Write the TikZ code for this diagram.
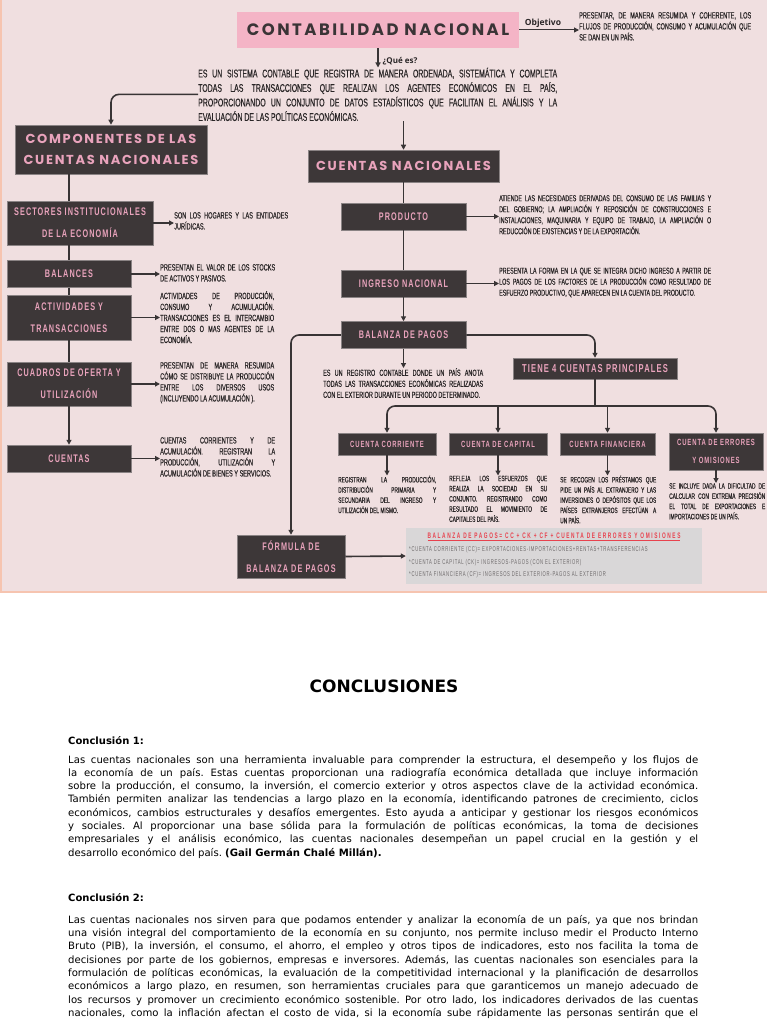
\documentclass[tikz,border=0pt]{standalone}
\usepackage{fontspec}
\setmainfont{DejaVu Sans}
\newfontfamily\condfont[FakeStretch=0.62,FakeBold=0.4]{Liberation Sans}
\newfontfamily\tagfont[FakeStretch=0.66,LetterSpace=10]{Liberation Sans}
\newfontfamily\formfont[FakeStretch=0.6,LetterSpace=20]{Liberation Sans}
\newfontfamily\formlinefont[FakeStretch=0.6,LetterSpace=10]{Liberation Sans}
\newfontfamily\titlefont[LetterSpace=15]{Poppins}
\newfontfamily\headfont[LetterSpace=13]{Poppins}
\newfontfamily\smallfont{Open Sans}
\newfontfamily\bodyfont{DejaVu Sans}
\usetikzlibrary{arrows.meta, positioning}
\frenchspacing
\definecolor{bgpink}{HTML}{F0DFE0}
\definecolor{titlepink}{HTML}{F4B4C6}
\definecolor{titleink}{HTML}{3A3436}
\definecolor{boxdark}{HTML}{3D3738}
\definecolor{boxedge}{HTML}{8A8384}
\definecolor{boxpink}{HTML}{E9A3BC}
\definecolor{ink}{HTML}{2A2627}
\definecolor{wire}{HTML}{383435}
\definecolor{formgray}{HTML}{D9D7D8}
\definecolor{formred}{HTML}{E8424E}
\definecolor{formink}{HTML}{6E6A6B}
\definecolor{borde}{HTML}{F6C4B0}
% una linea justificada y la ultima linea de un parrafo
\newcommand{\fila}[1]{\makebox[\hsize][s]{\spaceskip=0pt\xspaceskip=0pt #1}}
\newcommand{\ultima}[1]{\makebox[\hsize][l]{\spaceskip=0pt\xspaceskip=0pt #1}}

\begin{document}
\begin{tikzpicture}[x=1pt, y=-1pt, >={Triangle[length=5pt,width=5pt]},
    darkbox/.style={fill=boxdark, draw=boxedge, line width=0.5pt, text=boxpink, inner sep=0pt, align=center, font=\tagfont\bfseries\fontsize{11}{22}\selectfont},
    smallbox/.style={darkbox, font=\tagfont\bfseries\fontsize{9}{18}\selectfont},
    note/.style={anchor=north west, inner sep=0pt, align=left, text=ink, font=\condfont\fontsize{9}{11}\selectfont},
    tiny/.style={note, font=\condfont\fontsize{7.8}{10.2}\selectfont},
    formline/.style={anchor=west, text=formink, inner sep=0pt, font=\formlinefont\fontsize{7}{8}\selectfont},
    body/.style={anchor=north west, inner sep=0pt, text width=630, align=left, font=\bodyfont\fontsize{10.1}{13.3}\selectfont},
    link/.style={->, line width=1.6pt, draw=wire},
    plain/.style={line width=1.6pt, draw=wire}]
\useasboundingbox (0,0) rectangle (768,1024);
\fill[bgpink] (0,0) rectangle (767,592);
\draw[borde, line width=1.2pt] (1,0) -- (1,592) -- (767,592);

% titulo y objetivo
\node[fill=titlepink, minimum width=282, minimum height=36, inner sep=0pt, text=titleink, font=\titlefont\bfseries\fontsize{16.5}{18}\selectfont] (titulo) at (378,30) {CONTABILIDAD NACIONAL};
\node[font=\smallfont\bfseries\fontsize{8.5}{10}\selectfont, text=ink, inner sep=0pt] (objetivo) at (543,23) {Objetivo};
\node[note, text width=172] (objtext) at (579,12) {\fila{PRESENTAR, DE MANERA RESUMIDA Y COHERENTE, LOS}\\\fila{FLUJOS DE PRODUCCIÓN, CONSUMO Y ACUMULACIÓN QUE}\\\ultima{SE DAN EN UN PAÍS.}};
\draw[link, line width=1pt] (titulo.east) -- (titulo.east -| objtext.west);

\node[note, text width=359, font=\condfont\fontsize{11.2}{14.5}\selectfont] (quees) at (198,67.5) {\fila{ES UN SISTEMA CONTABLE QUE REGISTRA DE MANERA ORDENADA, SISTEMÁTICA Y COMPLETA}\\\fila{TODAS LAS TRANSACCIONES QUE REALIZAN LOS AGENTES ECONÓMICOS EN EL PAÍS,}\\\fila{PROPORCIONANDO UN CONJUNTO DE DATOS ESTADÍSTICOS QUE FACILITAN EL ANÁLISIS Y LA}\\\ultima{EVALUACIÓN DE LAS POLÍTICAS ECONÓMICAS.}};
\node[font=\smallfont\bfseries\fontsize{8}{10}\selectfont, text=ink, inner sep=0pt] (pregunta) at (400,61) {¿Qué es?};
\draw[link, line width=1.2pt] (titulo.south) -- (titulo.south |- quees.north);

% componentes
\node[darkbox, minimum width=192, minimum height=49, font=\headfont\bfseries\fontsize{13}{21}\selectfont] (compo) at (111,149.5) {COMPONENTES DE LAS\\CUENTAS NACIONALES};
\node[darkbox, minimum width=146, minimum height=44] (sectores) at (80,223) {SECTORES INSTITUCIONALES\\DE LA ECONOMÍA};
\node[darkbox, minimum width=124, minimum height=27] (balances) at (69,274) {BALANCES};
\node[darkbox, minimum width=124, minimum height=45] (actividades) at (69,317.5) {ACTIVIDADES Y\\TRANSACCIONES};
\node[darkbox, minimum width=124, minimum height=44] (cuadros) at (69,384) {CUADROS DE OFERTA Y\\UTILIZACIÓN};
\node[darkbox, minimum width=124, minimum height=27] (cuentas) at (69,458.5) {CUENTAS};

\node[note, text width=114] (sectext) at (174,212) {\fila{SON LOS HOGARES Y LAS ENTIDADES}\\\ultima{JURÍDICAS.}};
\node[note, text width=115] (baltext) at (160,264) {\fila{PRESENTAN EL VALOR DE LOS STOCKS}\\\ultima{DE ACTIVOS Y PASIVOS.}};
\node[note, text width=114] (acttext) at (160,291) {\fila{ACTIVIDADES DE PRODUCCIÓN,}\\\fila{CONSUMO Y ACUMULACIÓN.}\\\fila{TRANSACCIONES ES EL INTERCAMBIO}\\\fila{ENTRE DOS O MAS AGENTES DE LA}\\\ultima{ECONOMÍA.}};
\node[note, text width=114] (cuatext) at (160,362) {\fila{PRESENTAN DE MANERA RESUMIDA}\\\fila{CÓMO SE DISTRIBUYE LA PRODUCCIÓN}\\\fila{ENTRE LOS DIVERSOS USOS}\\\ultima{(INCLUYENDO LA ACUMULACIÓN ).}};
\node[note, text width=115] (ctatext) at (160,437) {\fila{CUENTAS CORRIENTES Y DE}\\\fila{ACUMULACIÓN. REGISTRAN LA}\\\fila{PRODUCCIÓN, UTILIZACIÓN Y}\\\ultima{ACUMULACIÓN DE BIENES Y SERVICIOS.}};

\draw[link, rounded corners=8] (quees.west) -| (compo.north);
\draw[plain] (compo.south -| balances) -- (sectores.north -| balances);
\draw[plain] (sectores.south -| balances) -- (balances.north);
\draw[plain] (balances) -- (actividades);
\draw[plain] (actividades) -- (cuadros);
\draw[link] (cuadros) -- (cuentas);
\draw[link] (sectores.east) -- (sectores.east -| sectext.west);
\draw[link] (balances.east) -- (balances.east -| baltext.west);
\draw[link] (actividades.east) -- (actividades.east -| acttext.west);
\draw[link] (cuadros.east) -- (cuadros.east -| cuatext.west);
\draw[link] (cuentas.east) -- (cuentas.east -| ctatext.west);

% cuentas nacionales
\node[darkbox, minimum width=191, minimum height=32, font=\headfont\bfseries\fontsize{13}{16}\selectfont] (cnac) at (403.5,166) {CUENTAS NACIONALES};
\node[darkbox, minimum width=125, minimum height=27] (producto) at (403.5,216.5) {PRODUCTO};
\node[darkbox, minimum width=125, minimum height=27] (ingreso) at (403.5,283.5) {INGRESO NACIONAL};
\node[darkbox, minimum width=125, minimum height=27] (balanza) at (403.5,335) {BALANZA DE PAGOS};
\node[darkbox, minimum width=108, minimum height=43] (formula) at (291,556.5) {FÓRMULA DE\\BALANZA DE PAGOS};
\node[darkbox, minimum width=164, minimum height=21, font=\tagfont\bfseries\fontsize{11.5}{12}\selectfont] (tiene) at (595,368.5) {TIENE 4 CUENTAS PRINCIPALES};

\node[note, text width=212, font=\condfont\fontsize{8.6}{11}\selectfont] (prodtext) at (499,195) {\fila{ATIENDE LAS NECESIDADES DERIVADAS DEL CONSUMO DE LAS FAMILIAS Y}\\\fila{DEL GOBIERNO; LA AMPLIACIÓN Y REPOSICIÓN DE CONSTRUCCIONES E}\\\fila{INSTALACIONES, MAQUINARIA Y EQUIPO DE TRABAJO, LA AMPLIACIÓN O}\\\ultima{REDUCCIÓN DE EXISTENCIAS Y DE LA EXPORTACIÓN.}};
\node[note, text width=212, font=\condfont\fontsize{8.6}{11}\selectfont] (ingtext) at (499,267.5) {\fila{PRESENTA LA FORMA EN LA QUE SE INTEGRA DICHO INGRESO A PARTIR DE}\\\fila{LOS PAGOS DE LOS FACTORES DE LA PRODUCCIÓN COMO RESULTADO DE}\\\ultima{ESFUERZO PRODUCTIVO, QUE APARECEN EN LA CUENTA DEL PRODUCTO.}};
\node[note, text width=160, font=\condfont\fontsize{8.8}{11}\selectfont] (bptext) at (323,368) {\fila{ES UN REGISTRO CONTABLE DONDE UN PAÍS ANOTA}\\\fila{TODAS LAS TRANSACCIONES ECONÓMICAS REALIZADAS}\\\ultima{CON EL EXTERIOR DURANTE UN PERIODO DETERMINADO.}};

\draw[link] (quees.south -| cnac.north) -- (cnac.north);
\draw[plain] (cnac) -- (producto);
\draw[plain] (producto) -- (ingreso);
\draw[link] (ingreso) -- (balanza);
\draw[link] (producto.east) -- (producto.east -| prodtext.west);
\draw[link] (ingreso.east) -- (ingreso.east -| ingtext.west);
\draw[link] (balanza.south) -- (balanza.south |- bptext.north);
\draw[link, rounded corners=8] (balanza.west) -| (formula.north);
\draw[link, rounded corners=8] (balanza.east) -| (tiene.north);

% cuatro cuentas
\node[smallbox, minimum width=98, minimum height=22] (corriente) at (387,444) {CUENTA CORRIENTE};
\node[smallbox, minimum width=98, minimum height=22] (capital) at (498,444) {CUENTA DE CAPITAL};
\node[smallbox, minimum width=95, minimum height=22] (financiera) at (607.5,444) {CUENTA FINANCIERA};
\node[smallbox, minimum width=94, minimum height=37] (errores) at (716,451.5) {CUENTA DE ERRORES\\Y OMISIONES};

\node[tiny, text width=98] (corrtext) at (338,475.5) {\fila{REGISTRAN LA PRODUCCIÓN,}\\\fila{DISTRIBUCIÓN PRIMARIA Y}\\\fila{SECUNDARIA DEL INGRESO Y}\\\ultima{UTILIZACIÓN DEL MISMO.}};
\node[tiny, text width=98] (captext) at (449,475.5) {\fila{REFLEJA LOS ESFUERZOS QUE}\\\fila{REALIZA LA SOCIEDAD EN SU}\\\fila{CONJUNTO. REGISTRANDO COMO}\\\fila{RESULTADO EL MOVIMIENTO DE}\\\ultima{CAPITALES DEL PAÍS.}};
\node[tiny, text width=96] (fintext) at (560,475.5) {\fila{SE RECOGEN LOS PRÉSTAMOS QUE}\\\fila{PIDE UN PAÍS AL EXTRANJERO Y LAS}\\\fila{INVERSIONES O DEPÓSITOS QUE LOS}\\\fila{PAÍSES EXTRANJEROS EFECTÚAN A}\\\ultima{UN PAÍS.}};
\node[tiny, text width=96] (errtext) at (669,483) {\fila{SE INCLUYE DADA LA DIFICULTAD DE}\\\fila{CALCULAR CON EXTREMA PRECISIÓN}\\\fila{EL TOTAL DE EXPORTACIONES E}\\\ultima{IMPORTACIONES DE UN PAÍS.}};

\coordinate (bus) at (595,406);
\draw[plain] (tiene) -- (bus);
\draw[link, rounded corners=8] (bus) -| (corriente.north);
\draw[link, rounded corners=8] (bus) -| (errores.north);
\draw[link] (bus -| capital) -- (capital.north);
\draw[link] (bus -| financiera) -- (financiera.north);
\draw[link] (corriente) -- (corriente.south |- corrtext.north);
\draw[link] (capital) -- (capital.south |- captext.north);
\draw[link] (financiera) -- (financiera.south |- fintext.north);
\draw[link] (errores) -- (errores.south |- errtext.north);

% formula
\node[fill=formgray, minimum width=296, minimum height=56, inner sep=0pt] (fbox) at (554,556) {};
\node[text=formred, inner sep=0pt, font=\formfont\bfseries\fontsize{8}{9}\selectfont] (ftitulo) at (554,537) {\underline{BALANZA DE PAGOS= CC + CK + CF + CUENTA DE ERRORES Y OMISIONES}};
\node[formline] (fcc) at (409,550) {*CUENTA CORRIENTE (CC)= EXPORTACIONES-IMPORTACIONES+RENTAS+TRANSFERENCIAS};
\node[formline] (fck) at (409,563) {*CUENTA DE CAPITAL (CK)= INGRESOS-PAGOS (CON EL EXTERIOR)};
\node[formline] (fcf) at (409,575) {*CUENTA FINANCIERA (CF)= INGRESOS DEL EXTERIOR-PAGOS AL EXTERIOR};
\draw[link] (formula.east) -- (fbox.west);

% conclusiones
\node[inner sep=0pt, font=\bfseries\fontsize{17}{18}\selectfont] (conclusiones) at (384,686) {CONCLUSIONES};
\node[anchor=west, inner sep=0pt, font=\bodyfont\bfseries\fontsize{10}{12}\selectfont] (conc1) at (68,741) {Conclusión 1:};
\node[body] (texto1) at (68,755) {\fila{Las cuentas nacionales son una herramienta invaluable para comprender la estructura, el desempeño y los flujos de}\\\fila{la economía de un país. Estas cuentas proporcionan una radiografía económica detallada que incluye información}\\\fila{sobre la producción, el consumo, la inversión, el comercio exterior y otros aspectos clave de la actividad económica.}\\\fila{También permiten analizar las tendencias a largo plazo en la economía, identificando patrones de crecimiento, ciclos}\\\fila{económicos, cambios estructurales y desafíos emergentes. Esto ayuda a anticipar y gestionar los riesgos económicos}\\\fila{y sociales. Al proporcionar una base sólida para la formulación de políticas económicas, la toma de decisiones}\\\fila{empresariales y el análisis económico, las cuentas nacionales desempeñan un papel crucial en la gestión y el}\\\ultima{desarrollo económico del país. \textbf{(Gail Germán Chalé Millán).}}};
\node[anchor=west, inner sep=0pt, font=\bodyfont\bfseries\fontsize{10}{12}\selectfont] (conc2) at (68,898) {Conclusión 2:};
\node[body] (texto2) at (68,915) {\fila{Las cuentas nacionales nos sirven para que podamos entender y analizar la economía de un país, ya que nos brindan}\\\fila{una visión integral del comportamiento de la economía en su conjunto, nos permite incluso medir el Producto Interno}\\\fila{Bruto (PIB), la inversión, el consumo, el ahorro, el empleo y otros tipos de indicadores, esto nos facilita la toma de}\\\fila{decisiones por parte de los gobiernos, empresas e inversores. Además, las cuentas nacionales son esenciales para la}\\\fila{formulación de políticas económicas, la evaluación de la competitividad internacional y la planificación de desarrollos}\\\fila{económicos a largo plazo, en resumen, son herramientas cruciales para que garanticemos un manejo adecuado de}\\\fila{los recursos y promover un crecimiento económico sostenible. Por otro lado, los indicadores derivados de las cuentas}\\\fila{nacionales, como la inflación afectan el costo de vida, si la economía sube rápidamente las personas sentirán que el}};
\end{tikzpicture}
\end{document}
